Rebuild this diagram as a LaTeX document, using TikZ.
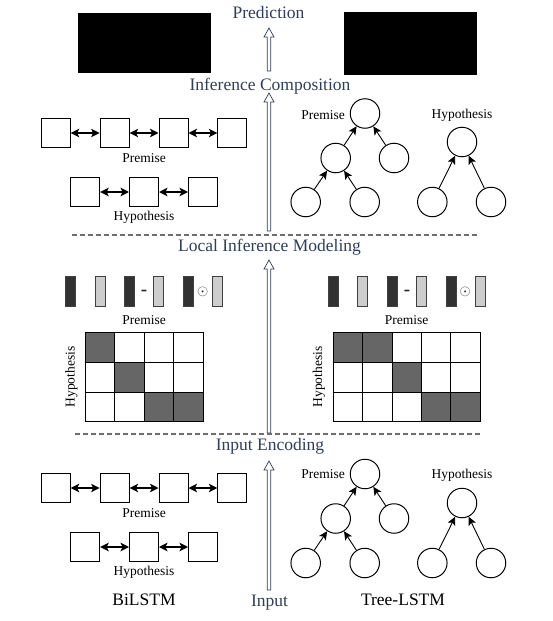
\documentclass[tikz,border=0pt]{standalone}
\usepackage{fontspec}
\setmainfont{Liberation Serif}
\usetikzlibrary{arrows.meta,calc}
\definecolor{titleblue}{RGB}{45,63,92}
\definecolor{dashgray}{RGB}{110,110,110}
\definecolor{cellgray}{RGB}{102,102,102}
\definecolor{bardark}{RGB}{50,50,50}
\definecolor{barlight}{RGB}{205,205,205}
\newcommand\hollowarrow[2]{%
  \draw[titleblue, line width=0.7pt, fill=white, line join=miter]
    ([xshift=-1.7pt]#1) -- ([xshift=-1.7pt,yshift=-9pt]#2) -- ([xshift=-5pt,yshift=-9pt]#2) -- (#2)
    -- ([xshift=5pt,yshift=-9pt]#2) -- ([xshift=1.7pt,yshift=-9pt]#2) -- ([xshift=1.7pt]#1) -- cycle;}
\begin{document}
\begin{tikzpicture}[x=1pt,y=-1pt,
  title/.style={font=\fontsize{17.5}{20}\selectfont, text=titleblue, inner sep=0, anchor=base},
  lbl/.style={font=\fontsize{13.5}{16}\selectfont, inner sep=0, anchor=base},
  sq/.style={draw, line width=1pt, minimum size=29pt, inner sep=0},
  circ/.style={draw, circle, line width=1pt, minimum size=29.5pt, inner sep=0},
  bi/.style={{Stealth[length=8.5pt,width=8.5pt,inset=2pt]}-{Stealth[length=8.5pt,width=8.5pt,inset=2pt]}, line width=1.3pt},
  uparr/.style={-{Stealth[length=8.5pt,width=8pt,inset=2pt]}, line width=0.9pt},
  bar/.style={draw=black!75, line width=0.8pt, minimum width=10pt, minimum height=30pt, inner sep=0},
  dkbar/.style={bar, fill=bardark},
  ltbar/.style={bar, fill=barlight},
  opsym/.style={inner sep=0, text=black!85},
  cellbox/.style={draw, line width=1pt, minimum width=#1, minimum height=29.7pt, inner sep=0},
  sepline/.style={draw=dashgray, line width=1.3pt, dash pattern=on 5pt off 3pt},
  redact/.style={fill=black, inner sep=0},
]
\useasboundingbox (0,0) rectangle (552,621);

% ---------------- titles ----------------
\node[title] (pred) at (268.5,18.5) {Prediction};
\node[title] (infcomp) at (270,90.5) {Inference Composition};
\node[title] (locinf) at (269.5,251.5) {Local Inference Modeling};
\node[title] (inenc) at (270,450) {Input Encoding};
\node[title] (input) at (269.5,606) {Input};
\node[title, text=black] (bilstm) at (144,605.7) {BiLSTM};
\node[title, text=black] (treelstm) at (403,605.7) {Tree-LSTM};

% ---------------- redacted boxes ----------------
\node[redact, minimum width=133pt, minimum height=60pt] (redl) at (144.5,43) {};
\node[redact, minimum width=133pt, minimum height=63pt] (redr) at (410.5,43.5) {};

% ---------------- central hollow arrows ----------------
\coordinate (a1b) at (269,71);  \coordinate (a1t) at (269,28);
\coordinate (a2b) at (269,231); \coordinate (a2t) at (269,93);
\coordinate (a3b) at (269,433); \coordinate (a3t) at (269,260);
\coordinate (a4b) at (269,590); \coordinate (a4t) at (269,461);
\hollowarrow{a1b}{a1t}
\hollowarrow{a2b}{a2t}
\hollowarrow{a3b}{a3t}
\hollowarrow{a4b}{a4t}

% ---------------- dashed separators ----------------
\coordinate (d1l) at (72,235);  \coordinate (d1r) at (478,235);
\coordinate (d2l) at (75,434);  \coordinate (d2r) at (480,434);
\draw[sepline] (d1l) -- (d1r);
\draw[sepline] (d2l) -- (d2r);

% ---------------- BiLSTM (top, composition) ----------------
\node[sq] (tp1) at (55.7,133) {};
\node[sq] (tp2) at (114.6,133) {};
\node[sq] (tp3) at (173.5,133) {};
\node[sq] (tp4) at (232.4,133) {};
\draw[bi] (tp1) -- (tp2);
\draw[bi] (tp2) -- (tp3);
\draw[bi] (tp3) -- (tp4);
\node[lbl] (tpl) at (144,162) {Premise};
\node[sq] (th1) at (85.2,192) {};
\node[sq] (th2) at (144,192) {};
\node[sq] (th3) at (203,192) {};
\draw[bi] (th1) -- (th2);
\draw[bi] (th2) -- (th3);
\node[lbl] (thl) at (144,220) {Hypothesis};

% ---------------- BiLSTM (bottom, encoding) ----------------
\node[sq] (bp1) at (55.7,488) {};
\node[sq] (bp2) at (114.6,488) {};
\node[sq] (bp3) at (173.5,488) {};
\node[sq] (bp4) at (232.4,488) {};
\draw[bi] (bp1) -- (bp2);
\draw[bi] (bp2) -- (bp3);
\draw[bi] (bp3) -- (bp4);
\node[lbl] (bpl) at (144,517) {Premise};
\node[sq] (bh1) at (85.2,547) {};
\node[sq] (bh2) at (144,547) {};
\node[sq] (bh3) at (203,547) {};
\draw[bi] (bh1) -- (bh2);
\draw[bi] (bh2) -- (bh3);
\node[lbl] (bhl) at (144,575) {Hypothesis};

% ---------------- Tree-LSTM (top, composition) ----------------
\node[circ] (tr) at (365,113.5) {};
\node[circ] (tm) at (335.7,158) {};
\node[circ] (trr) at (394,158) {};
\node[circ] (tl1) at (305.7,202) {};
\node[circ] (tl2) at (364.7,202) {};
\draw[uparr] (tm) -- (tr);
\draw[uparr] (trr) -- (tr);
\draw[uparr] (tl1) -- (tm);
\draw[uparr] (tl2) -- (tm);
\node[lbl] (tprem) at (323,119) {Premise};
\node[circ] (thr) at (462,142) {};
\node[circ] (thl1) at (432.3,202) {};
\node[circ] (thl2) at (491,202) {};
\draw[uparr] (thl1) -- (thr);
\draw[uparr] (thl2) -- (thr);
\node[lbl] (thyp) at (462,118) {Hypothesis};

% ---------------- Tree-LSTM (bottom, encoding) ----------------
\node[circ] (br) at (365,474) {};
\node[circ] (bm) at (335.7,518.5) {};
\node[circ] (brr) at (394,518.5) {};
\node[circ] (bl1) at (305.7,563) {};
\node[circ] (bl2) at (364.7,563) {};
\draw[uparr] (bm) -- (br);
\draw[uparr] (brr) -- (br);
\draw[uparr] (bl1) -- (bm);
\draw[uparr] (bl2) -- (bm);
\node[lbl] (bprem) at (323,478.5) {Premise};
\node[circ] (bhr) at (462,503) {};
\node[circ] (bhl1) at (432.3,563) {};
\node[circ] (bhl2) at (491,563) {};
\draw[uparr] (bhl1) -- (bhr);
\draw[uparr] (bhl2) -- (bhr);
\node[lbl] (bhyp) at (462,478.5) {Hypothesis};

% ---------------- Local inference: left ----------------
\node[dkbar] (lb1) at (70.5,291) {};
\node[ltbar] (lb2) at (100.5,291) {};
\node[dkbar] (lb3) at (129.5,291) {};
\node[opsym, font=\fontsize{19}{20}\selectfont\bfseries] (lminus) at (144,292.5) {-};
\node[ltbar] (lb4) at (158.7,291) {};
\node[dkbar] (lb5) at (188.5,291) {};
\node[opsym, font=\fontsize{14.5}{16}\selectfont] (lodot) at (202.7,292) {$\odot$};
\node[ltbar] (lb6) at (217.5,291) {};
\node[lbl] (lprem) at (144,324.3) {Premise};
\foreach \r in {1,2,3}
  \foreach \c in {1,2,3,4}
    \node[cellbox=29.6pt] (gl-\r-\c) at ({85+29.6*(\c-0.5)},{332.7+29.7*(\r-0.5)}) {};
\foreach \r/\c in {1/1,2/2,3/3,3/4}
  \node[cellbox=29.6pt, fill=cellgray] (gls-\r-\c) at ({85+29.6*(\c-0.5)},{332.7+29.7*(\r-0.5)}) {};
\node[lbl, rotate=90] (lhyp) at (74.5,377) {Hypothesis};

% ---------------- Local inference: right ----------------
\node[dkbar] (rb1) at (333.5,291) {};
\node[ltbar] (rb2) at (362.7,291) {};
\node[dkbar] (rb3) at (392.3,291) {};
\node[opsym, font=\fontsize{19}{20}\selectfont\bfseries] (rminus) at (407,292.5) {-};
\node[ltbar] (rb4) at (421.8,291) {};
\node[dkbar] (rb5) at (451.2,291) {};
\node[opsym, font=\fontsize{14.5}{16}\selectfont] (rodot) at (465.3,292) {$\odot$};
\node[ltbar] (rb6) at (480.7,291) {};
\node[lbl] (rprem) at (406.7,324.3) {Premise};
\foreach \r in {1,2,3}
  \foreach \c in {1,2,3,4,5}
    \node[cellbox=29.4pt] (gr-\r-\c) at ({333.3+29.4*(\c-0.5)},{332.7+29.7*(\r-0.5)}) {};
\foreach \r/\c in {1/1,1/2,2/3,3/4,3/5}
  \node[cellbox=29.4pt, fill=cellgray] (grs-\r-\c) at ({333.3+29.4*(\c-0.5)},{332.7+29.7*(\r-0.5)}) {};
\node[lbl, rotate=90] (rhyp) at (322,377) {Hypothesis};
\end{tikzpicture}
\end{document}
